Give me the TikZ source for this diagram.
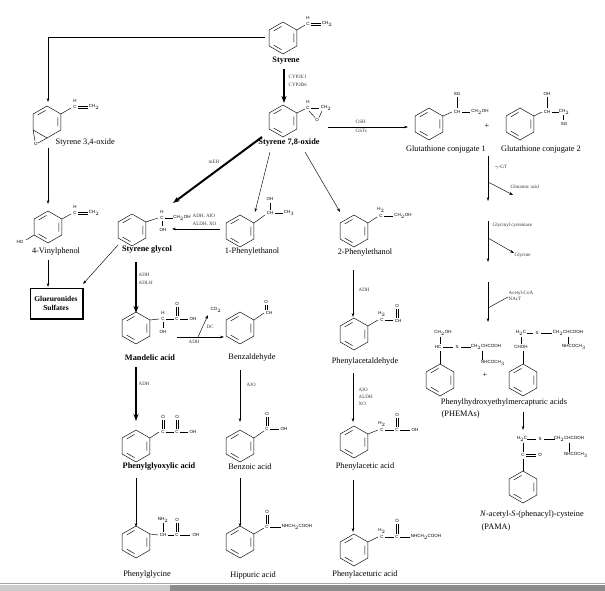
\documentclass[tikz,border=0pt]{standalone}
\usepackage{fontspec}
\setmainfont{Liberation Serif}
\setsansfont{Liberation Sans}
\usetikzlibrary{arrows.meta}
\newcounter{cn}
\newcommand\ch[2]{\stepcounter{cn}\node[chem] (c\thecn) at (#1) {#2};}
\newcommand\ed[2]{\stepcounter{cn}\node[enz,anchor=west] (e\thecn) at (#1) {#2};}
\begin{document}
\begin{tikzpicture}[x=1pt,y=-1pt,line width=0.45pt,
  chem/.style={font=\sffamily\fontsize{4.5}{4.7}\selectfont,inner sep=0.2pt},
  enz/.style={font=\fontsize{5}{5.5}\selectfont,text=black!80,inner sep=0.5pt},
  lab/.style={font=\fontsize{8.3}{9.5}\selectfont,inner sep=0.5pt},
  blab/.style={lab,font=\fontsize{8.3}{9.5}\selectfont\bfseries},
  arr/.style={-{Stealth[length=4pt,width=2.6pt]},line width=0.45pt},
  tarr/.style={-{Stealth[length=7pt,width=5pt]},line width=2pt},
  benz/.pic={\draw (0,-16)--(13.86,-8)--(13.86,8)--(0,16)--(-13.86,8)--(-13.86,-8)--cycle;
    \draw (10.8,-4.5)--(10.8,4.5) (-1.5,11.6)--(-9.3,7.1) (-9.3,-7.1)--(-1.5,-11.6);},
  diene/.pic={\draw (0,-16)--(13.86,-8)--(13.86,8)--(0,16)--(-13.86,8)--(-13.86,-8)--cycle;
    \draw (10.8,-4.5)--(10.8,4.5) (-9.3,-7.1)--(-1.5,-11.6);}]
\useasboundingbox (0,0) rectangle (605,591);
% bottom bar
\draw[black!35] (0,583)--(605,583);
\fill[black!45] (170,585) rectangle (605,591);
\fill[black!20] (0,585) rectangle (170,591);

% ---------- Styrene
\pic at (283,38) {benz};
\draw (296.9,30)--(305,25);
\ch{308,18}{H}\ch{308,24}{C}
\draw (311,23.2)--(321,23.2) (311,25.2)--(321,25.2);
\ch{327,24}{CH$_2$}
\node[blab] (sty) at (286,61) {Styrene};
\coordinate (styL) at (265,37);
\ed{288,77}{CYP2E1}\ed{288,85}{CYP2B6}
\draw[tarr] (284,69)--(284,103);

% ---------- Styrene 7,8-oxide
\pic at (283,121) {benz};
\draw (296.9,113)--(305,109);
\ch{308,102}{H}\ch{308,108}{C}
\draw (311,108)--(319,108);
\ch{326,108}{CH$_2$}
\ch{317,120}{O}
\draw (309,111)--(315,117.5) (322,111)--(319,117.5);
\node[blab] (sox) at (289,143) {Styrene 7,8-oxide};

% ---------- Styrene 3,4-oxide
\draw[arr] (styL)--(48,37)--(48,102);
\pic at (47,122) {diene};
\ch{36,144}{O}
\draw (33.1,130)--(35,141) (47,138)--(38,143);
\draw (60.9,114)--(71,108);
\ch{75,101}{H}\ch{75,107}{C}
\draw (78,106.2)--(88,106.2) (78,108.2)--(88,108.2);
\ch{94,107}{CH$_2$}
\node[lab,anchor=west] (so34) at (55,143) {Styrene 3,4-oxide};
\draw[arr] (48,148)--(48,204);

% ---------- 4-Vinylphenol
\pic at (48,227) {benz};
\draw (61.9,219)--(71,214);
\ch{75,207}{H}\ch{75,213}{C}
\draw (78,212.2)--(88,212.2) (78,214.2)--(88,214.2);
\ch{94,213}{CH$_2$}
\draw (34.1,235)--(26,240);
\ch{20,242}{HO}
\node[lab] (vp) at (56,252) {4-Vinylphenol};
\draw[arr] (48,260)--(48,287);

% ---------- Box
\node[draw,line width=0.6pt,font=\fontsize{7.5}{9}\selectfont\bfseries,align=center,
  minimum width=52pt,minimum height=30pt,inner sep=1pt] (box) at (56,303) {Glueuronides\\Sulfates};
\draw[line width=1.3pt] ([xshift=0.6pt]box.north east)--([xshift=0.6pt,yshift=-0.6pt]box.south east)--([yshift=-0.6pt]box.south west);

% ---------- mEH
\draw[tarr] (262,137)--(173,203);
\ed{208,162}{mEH}

% ---------- Styrene glycol
\pic at (132,230) {benz};
\draw (145.9,222)--(158,218);
\ch{162,212}{H}\ch{162,218}{C}
\draw (165,218)--(173,218);
\ch{182,218}{CH$_2$OH}
\draw (162,221)--(162,225.5);
\ch{163,229.5}{OH}
\node[blab] (sg) at (147,250) {Styrene glycol};
\draw[arr] (118,245)--(83,284);

% ---------- 1-Phenylethanol
\draw[arr] (270,152)--(255,212);
\pic at (240,231) {benz};
\draw (253.9,223)--(265,215);
\ch{270,199}{OH}\ch{270,213}{CH}
\draw (270,203)--(270,209.5) (275,213)--(283,213);
\ch{289,213}{CH$_3$}
\node[lab] (pe1) at (252,252) {1-Phenylethanol};
\draw[arr] (220,229)--(172,229);
\ed{192,216}{ADH, AIO}\ed{192,224}{ALDH, XO}

% ---------- 2-Phenylethanol
\draw[arr] (305,152)--(340,212);
\pic at (354,231) {benz};
\draw (367.9,223)--(377,217);
\ch{381,210}{H$_2$}\ch{381,216}{C}
\draw (384,216)--(393,216);
\ch{403,216}{CH$_2$OH}
\node[lab] (pe2) at (365,253) {2-Phenylethanol};
\draw[arr] (353,270)--(353,317);
\ed{358,290}{ADH}

% ---------- Phenylacetaldehyde
\pic at (354,334) {benz};
\draw (367.9,326)--(378,320);
\ch{382,314}{H$_2$}\ch{382,320}{C}
\draw (385,320)--(393,320);
\ch{397,306}{O}\ch{398,321}{CH}
\draw (396.2,309)--(396.2,317.5) (398.2,309)--(398.2,317.5);
\node[lab] (pad) at (365,362) {Phenylacetaldehyde};
\draw[arr] (353,373)--(353,422);
\ed{358,390}{AIO}\ed{358,397}{ALDH}\ed{358,404}{XO}

% ---------- Phenylacetic acid
\pic at (354,442) {benz};
\draw (367.9,434)--(378,430);
\ch{382,424}{H$_2$}\ch{382,430}{C}
\draw (385,430)--(394,430);
\ch{397,430}{C}\ch{397,415}{O}
\draw (396.2,418)--(396.2,427) (398.2,418)--(398.2,427);
\draw (400,430)--(410,430);
\ch{415,430}{OH}
\node[lab] (paa) at (365,467) {Phenylacetic acid};
\draw[arr] (353,480)--(353,532);

% ---------- Phenylaceturic acid
\pic at (354,550) {benz};
\draw (367.9,542)--(378,537);
\ch{382,531}{H$_2$}\ch{382,537}{C}
\draw (385,537)--(394,537);
\ch{397,537}{C}\ch{397,521}{O}
\draw (396.2,524)--(396.2,534) (398.2,524)--(398.2,534);
\draw (400,537)--(410,537);
\ch{426,537}{NHCH$_2$COOH}
\node[lab] (pau) at (365,575) {Phenylaceturic acid};

% ---------- Mandelic acid
\draw[tarr] (136,262)--(136,313);
\ed{138,275}{ADH}\ed{138,283}{ADLH}
\pic at (136,328) {benz};
\draw (149.9,320)--(159,319);
\ch{163,313}{H}\ch{163,319}{C}
\draw (166,319)--(174,319);
\ch{177,319}{C}\ch{177,304}{O}
\draw (176.2,307)--(176.2,316) (178.2,307)--(178.2,316);
\draw (180,319)--(188,319);
\ch{193,319}{OH}
\draw (163,322)--(163,328);
\ch{163,332}{OH}
\node[blab] (ma) at (150,358) {Mandelic acid};
\draw[arr] (177,337)--(224,337);
\ed{188,342}{ADH}
\draw[arr] (198,337)--(208,315);
\ch{216,310}{CO$_2$}
\ed{206,327}{DC}

% ---------- Benzaldehyde
\pic at (240,328) {benz};
\draw (253.9,320)--(264,313);
\ch{266,302}{O}
\draw (265.2,305)--(265.2,310) (267.2,305)--(267.2,310);
\ch{269,313}{CH}
\node[lab] (bz) at (252,358) {Benzaldehyde};
\draw[arr] (240,370)--(240,422);
\ed{246,385}{AIO}

% ---------- Benzoic acid
\pic at (240,446) {benz};
\draw (253.9,438)--(264,431);
\ch{267,429}{C}\ch{267,414}{O}
\draw (266.2,417)--(266.2,426) (268.2,417)--(268.2,426);
\draw (270,429)--(279,429);
\ch{284,429}{OH}
\node[lab] (ba) at (250,467) {Benzoic acid};
\draw[arr] (240,478)--(240,527);

% ---------- Hippuric acid
\pic at (240,542) {benz};
\draw (253.9,534)--(264,528);
\ch{267,527}{C}\ch{267,512}{O}
\draw (266.2,515)--(266.2,524) (268.2,515)--(268.2,524);
\draw (270,527)--(281,527);
\ch{297,527}{NHCH$_2$COOH}
\node[lab] (ha) at (253,575) {Hippuric acid};

% ---------- Phenylglyoxylic acid
\draw[tarr] (136,367)--(136,421);
\ed{138,384}{ADH}
\pic at (136,446) {benz};
\draw (149.9,438)--(159,432);
\ch{163,432}{C}\ch{163,417}{O}
\draw (162.2,420)--(162.2,429) (164.2,420)--(164.2,429);
\draw (166,432)--(174,432);
\ch{177,432}{C}\ch{177,417}{O}
\draw (176.2,420)--(176.2,429) (178.2,420)--(178.2,429);
\draw (180,432)--(188,432);
\ch{193,432}{OH}
\node[blab] (pga) at (159,467) {Phenylglyoxylic acid};
\draw[arr] (136,478)--(136,527);

% ---------- Phenylglycine
\pic at (136,542) {benz};
\draw (149.9,534)--(158,535);
\ch{163,535}{CH}\ch{163,520}{NH$_2$}
\draw (163,523)--(163,532);
\draw (168,535)--(174,535);
\ch{177,535}{C}\ch{177,520}{O}
\draw (176.2,523)--(176.2,532) (178.2,523)--(178.2,532);
\draw (180,535)--(190,535);
\ch{196,535}{OH}
\node[lab] (pgl) at (147,575) {Phenylglycine};

% ---------- Glutathione conjugates
\draw[arr] (328,127)--(408,127);
\ed{355,122}{GSH}\ed{355,131}{GSTs}
\pic at (429,124) {benz};
\draw (442.9,116)--(452,112);
\ch{457,112}{CH}\ch{457,94}{SG}
\draw (457,108.5)--(457,97.5) (462,112)--(470,112);
\ch{480,112}{CH$_2$OH}
\node[lab] (gc1) at (446,150) {Glutathione conjugate 1};
\node[lab] (plus1) at (487,126) {+};
\pic at (520,124) {benz};
\draw (533.9,116)--(542,112);
\ch{547,112}{CH}\ch{547,94}{OH}
\draw (547,108.5)--(547,97.5) (552,112)--(559,112);
\ch{564,112}{CH$_2$}
\draw (563,115.5)--(563,120.5);
\ch{564,124}{SG}
\node[lab] (gc2) at (541,150) {Glutathione conjugate 2};

% mercapturic pathway
\draw[arr] (488,156)--(488,201);
\draw[arr] (488,182)--(513,195);
\ed{494,167}{$\gamma$-GT}
\ed{510,187}{Glutamic acid}
\ed{492,225}{Glycinyl cysteinase}
\draw[arr] (488,221)--(488,262);
\draw[arr] (488,238)--(514,253);
\ed{514,255}{Glycine}
\ed{508,293}{Acetyl-CoA}\ed{508,299}{NAcT}
\draw[arr] (488,282)--(488,322);
\draw (488,308)--(508,297);

% PHEMA 1
\pic at (440,380) {benz};
\draw (440,364)--(440,350.5);
\ch{438,347}{HC}\ch{443,333}{CH$_2$OH}
\draw (440,343.5)--(440,336.5) (443,347)--(453,347);
\ch{457,347}{S}
\draw (461,347)--(471,347);
\ch{486,347}{CH$_2$CHCOOH}
\draw (482,350.5)--(482,359.5);
\ch{493,363}{NHCOCH$_3$}
\node[lab] (plus2) at (485,375) {+};
% PHEMA 2
\pic at (523,380) {benz};
\draw (523,364)--(523,350.5);
\ch{521,347}{CHOH}\ch{521,333}{H$_2$C}
\draw (521,343.5)--(521,336.5) (527,333)--(533,333);
\ch{537,333}{S}
\draw (541,333)--(552,333);
\ch{568,333}{CH$_2$CHCOOH}
\draw (568,336.5)--(568,343.5);
\ch{574,347}{NHCOCH$_3$}
\node[lab] (phl1) at (504,403) {Phenylhydroxyethylmercapturic acids};
\node[lab,anchor=west] (phl2) at (441,415) {(PHEMAs)};
\draw[arr] (523,412)--(523,430);

% PAMA
\ch{522,439}{H$_2$C}
\draw (527,439)--(536,439);
\ch{540,439}{S}
\draw (544,439)--(555,439);
\ch{569,439}{CH$_2$CHCOOH}
\draw (569,442.5)--(569,451.5);
\ch{576,455}{NHCOCH$_3$}
\draw (523,442.5)--(523,451.5);
\ch{523,455}{C}
\draw (526,454)--(536,454) (526,456)--(536,456);
\ch{540,455}{O}
\draw (523,458.5)--(523,471);
\pic at (523,487) {benz};
\node[lab] (pm1) at (532,515) {\textit{N}-acetyl-\textit{S}-(phenacyl)-cysteine};
\node[lab,anchor=west] (pm2) at (481,527) {(PAMA)};
\end{tikzpicture}
\end{document}
